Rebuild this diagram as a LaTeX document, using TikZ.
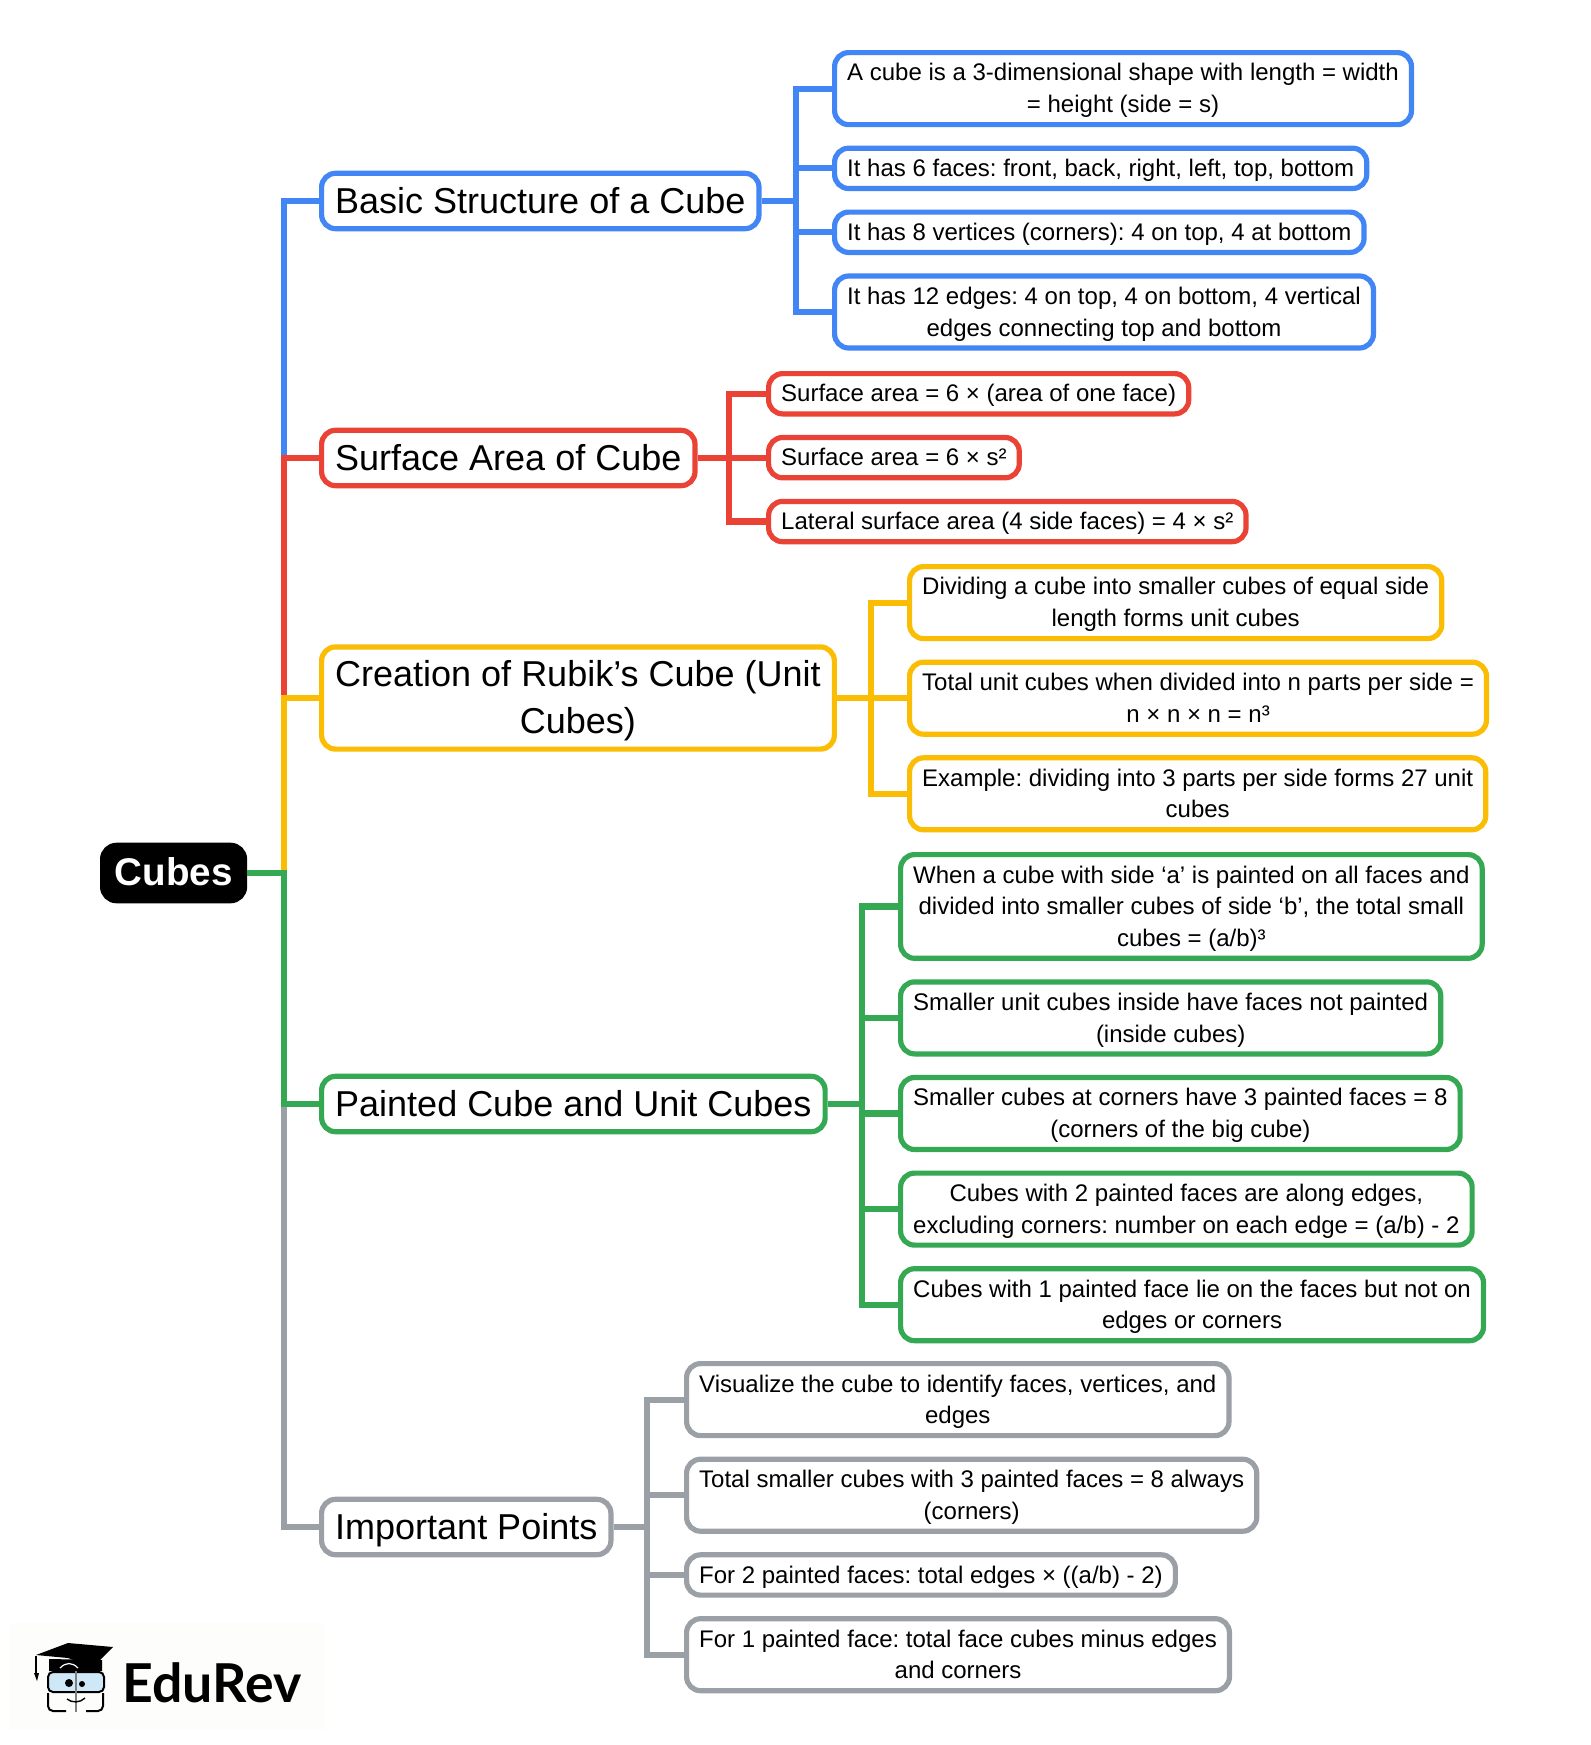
\documentclass[tikz,border=0pt]{standalone}
\usepackage{fontspec}
\setmainfont{Liberation Sans}
\newfontfamily\brandfont{Lato}
\usetikzlibrary{positioning}

\definecolor{mapblue}{HTML}{4285F4}
\definecolor{mapred}{HTML}{EA4335}
\definecolor{mapyellow}{HTML}{FBBC04}
\definecolor{mapgreen}{HTML}{34A853}
\definecolor{mapgray}{HTML}{9AA0A6}
\definecolor{glass}{HTML}{CFE8F8}
\definecolor{logopaper}{HTML}{FDFDFB}

\newcommand{\boxstrut}{\rule[-0.24\baselineskip]{0pt}{\baselineskip}}

\begin{document}
\frenchspacing
\begin{tikzpicture}[
    x=0.5pt, y=-0.5pt,
    box/.style={rectangle, rounded corners=7pt, draw, fill=white, line width=2.6pt, align=center,
        inner xsep=6.3pt, inner ysep=2.15pt, text=black},
    leaf/.style={box, font=\fontsize{12}{15.85}\selectfont},
    branch/.style={box, inner xsep=6.8pt, font=\fontsize{18}{23.4}\selectfont},
    rootbox/.style={box, inner xsep=6pt, draw=black, fill=black, text=white, font=\fontsize{19.3}{23.4}\selectfont\bfseries},
    next/.style={below=9.2pt of #1.south west, anchor=north west},
    link/.style={line width=3.1pt, line join=miter}
]
\path[use as bounding box] (0,0) rectangle (1590,1745);

% Root and branches
\node[rootbox, anchor=west] (cubes) at (100,873) {\boxstrut Cubes};
\node[branch, draw=mapblue, anchor=west] (basic) at (319,201) {\boxstrut Basic Structure of a Cube};
\node[branch, draw=mapred, anchor=west] (surface) at (319,458) {\boxstrut Surface Area of Cube};
\node[branch, draw=mapyellow, anchor=west] (creation) at (319,698) {\boxstrut Creation of Rubik’s Cube (Unit\\Cubes)\boxstrut};
\node[branch, draw=mapgreen, anchor=west] (painted) at (319,1104) {\boxstrut Painted Cube and Unit Cubes};
\node[branch, draw=mapgray, anchor=west] (important) at (319,1527) {\boxstrut Important Points};

% Basic structure
\node[leaf, draw=mapblue, anchor=north west] (shape) at (832,50) {\boxstrut A cube is a 3-dimensional shape with length = width\\= height (side = s)\boxstrut};
\node[leaf, draw=mapblue, next=shape] (faces) {\boxstrut It has 6 faces: front, back, right, left, top, bottom};
\node[leaf, draw=mapblue, next=faces] (vertices) {\boxstrut It has 8 vertices (corners): 4 on top, 4 at bottom};
\node[leaf, draw=mapblue, next=vertices] (edges) {\boxstrut It has 12 edges: 4 on top, 4 on bottom, 4 vertical\\edges connecting top and bottom\boxstrut};

% Surface area
\node[leaf, draw=mapred, anchor=north west] (areaone) at (766,371) {\boxstrut Surface area = 6 × (area of one face)};
\node[leaf, draw=mapred, next=areaone] (areasq) {\boxstrut Surface area = 6 × s²};
\node[leaf, draw=mapred, next=areasq] (lateral) {\boxstrut Lateral surface area (4 side faces) = 4 × s²};

% Unit cubes
\node[leaf, draw=mapyellow, anchor=north west] (dividing) at (907,564) {\boxstrut Dividing a cube into smaller cubes of equal side\\length forms unit cubes\boxstrut};
\node[leaf, draw=mapyellow, next=dividing] (total) {\boxstrut Total unit cubes when divided into n parts per side =\\n × n × n = n³\boxstrut};
\node[leaf, draw=mapyellow, next=total] (example) {\boxstrut Example: dividing into 3 parts per side forms 27 unit\\cubes\boxstrut};

% Painted cube
\node[leaf, draw=mapgreen, anchor=north west] (allfaces) at (898,852) {\boxstrut When a cube with side ‘a’ is painted on all faces and\\divided into smaller cubes of side ‘b’, the total small\\cubes = (a/b)³\boxstrut};
\node[leaf, draw=mapgreen, next=allfaces] (inside) {\boxstrut Smaller unit cubes inside have faces not painted\\(inside cubes)\boxstrut};
\node[leaf, draw=mapgreen, next=inside] (corners) {\boxstrut Smaller cubes at corners have 3 painted faces = 8\\(corners of the big cube)\boxstrut};
\node[leaf, draw=mapgreen, next=corners] (twofaces) {\boxstrut Cubes with 2 painted faces are along edges,\\excluding corners: number on each edge = (a/b) - 2\boxstrut};
\node[leaf, draw=mapgreen, next=twofaces] (oneface) {\boxstrut Cubes with 1 painted face lie on the faces but not on\\edges or corners\boxstrut};

% Important points
\node[leaf, draw=mapgray, anchor=north west] (visualize) at (684,1361) {\boxstrut Visualize the cube to identify faces, vertices, and\\edges\boxstrut};
\node[leaf, draw=mapgray, next=visualize] (always) {\boxstrut Total smaller cubes with 3 painted faces = 8 always\\(corners)\boxstrut};
\node[leaf, draw=mapgray, next=always] (forsecond) {\boxstrut For 2 painted faces: total edges × ((a/b) - 2)};
\node[leaf, draw=mapgray, next=forsecond] (forfirst) {\boxstrut For 1 painted face: total face cubes minus edges\\and corners\boxstrut};

% Joints
\coordinate (trunksurface) at (284,458);
\coordinate (trunkcreation) at (284,698);
\coordinate (trunkroot) at (284,873);
\coordinate (trunkpainted) at (284,1104);
\coordinate (hubbasic) at (796,201);
\coordinate (hubsurface) at (729,458);
\coordinate (hubcreation) at (871,698);
\coordinate (hubpainted) at (862,1104);
\coordinate (hubimportant) at (647,1527);

% Trunk
\draw[link, mapblue] (basic.west) -| (trunksurface);
\draw[link, mapred] (surface.west) -| (trunkcreation);
\draw[link, mapyellow] (creation.west) -| (trunkroot);
\draw[link, mapgray] (important.west) -| (trunkpainted);
\draw[link, mapgreen] (painted.west) -| (trunkroot) -- (cubes.east);

% Branch lines
\draw[link, mapblue] (basic.east) -- (hubbasic);
\draw[link, mapblue] (shape.west) -| (hubbasic);
\draw[link, mapblue] (faces.west) -| (hubbasic);
\draw[link, mapblue] (vertices.west) -| (hubbasic);
\draw[link, mapblue] (edges.west) -| (hubbasic);

\draw[link, mapred] (surface.east) -- (hubsurface);
\draw[link, mapred] (areaone.west) -| (hubsurface);
\draw[link, mapred] (areasq.west) -| (hubsurface);
\draw[link, mapred] (lateral.west) -| (hubsurface);

\draw[link, mapyellow] (creation.east) -- (hubcreation);
\draw[link, mapyellow] (dividing.west) -| (hubcreation);
\draw[link, mapyellow] (total.west) -| (hubcreation);
\draw[link, mapyellow] (example.west) -| (hubcreation);

\draw[link, mapgreen] (painted.east) -- (hubpainted);
\draw[link, mapgreen] (allfaces.west) -| (hubpainted);
\draw[link, mapgreen] (inside.west) -| (hubpainted);
\draw[link, mapgreen] (corners.west) -| (hubpainted);
\draw[link, mapgreen] (twofaces.west) -| (hubpainted);
\draw[link, mapgreen] (oneface.west) -| (hubpainted);

\draw[link, mapgray] (important.east) -- (hubimportant);
\draw[link, mapgray] (visualize.west) -| (hubimportant);
\draw[link, mapgray] (always.west) -| (hubimportant);
\draw[link, mapgray] (forsecond.west) -| (hubimportant);
\draw[link, mapgray] (forfirst.west) -| (hubimportant);

% Logo
\fill[logopaper] (10,1623) rectangle (325,1730);
\node[anchor=base west, inner sep=0pt, font=\fontsize{26.8}{30}\selectfont\brandfont\bfseries] (brand) at (122,1702) {EduRev};
\fill (49,1659) -- (49,1671) -- (102,1671) -- (102,1660) -- cycle;
\fill (36,1655) -- (68,1643) -- (113,1647) -- (93,1667) -- (68,1658) -- cycle;
\draw[line width=0.7pt] (36,1656) -- (36,1673);
\fill (34,1673) -- (39,1673) -- (37,1681) -- cycle;
\draw[white, line width=0.6pt] (60,1668) .. controls (66,1662) and (72,1662) .. (78,1668);
\draw[fill=glass, line width=1pt, rounded corners=2.5pt] (48,1672) rectangle (104,1692);
\draw[line width=1pt, rounded corners=2.5pt] (48,1693) -- (48,1711) -- (66,1711);
\draw[line width=1pt, rounded corners=2.5pt] (86,1711) -- (103,1711) -- (103,1693);
\draw[gray, line width=1pt] (76,1671) -- (76,1712);
\fill (69,1683) circle (4);
\fill (82,1684) circle (3);
\draw[line width=0.7pt] (67,1699) .. controls (72,1703) and (80,1703) .. (85,1698);
\end{tikzpicture}
\end{document}
